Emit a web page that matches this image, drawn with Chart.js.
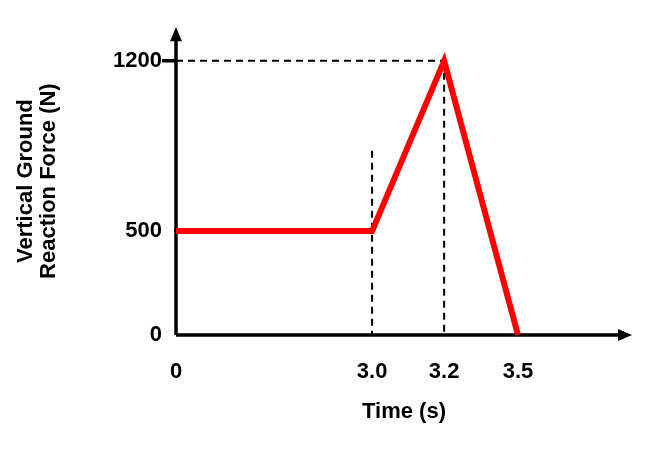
<!DOCTYPE html>
<html><head><meta charset="utf-8">
<script src="https://cdn.jsdelivr.net/npm/chart.js@4"></script>
<style>html,body{margin:0;padding:0;background:#fff}#w{width:645px;height:449px}</style>
</head><body><div id="w"><canvas id="c"></canvas></div>
<script>
const times = [0, 3.0, 3.2, 3.5];
const forces = [500, 500, 1200, 0];
const xTicks = [0, 3.0, 3.2, 3.5];
const xTickLabels = ['0', '3.0', '3.2', '3.5'];
const yTicks = [0, 500, 1200];
const xBreaks = [0, 3.0, 3.2, 3.5, 4.0];
const xFrac = [0, 0.43, 0.588, 0.75, 1.0];
const yBreaks = [0, 500, 1200, 1350];
const yFrac = [0, 0.3375, 0.8906, 1.0];

function mapF(v, b, f) {
  for (let i = 0; i < b.length - 1; i++) {
    if (v <= b[i+1] || i === b.length - 2) {
      return f[i] + (v - b[i]) / (b[i+1] - b[i]) * (f[i+1] - f[i]);
    }
  }
  return 0;
}
class PiecewiseScale extends Chart.LinearScale {
  brk() { return this.axis === 'x' ? [xBreaks, xFrac] : [yBreaks, yFrac]; }
  getPixelForValue(v) {
    const [b, f] = this.brk();
    const t = mapF(v, b, f);
    return this.isHorizontal() ? this.left + t * this.width : this.bottom - t * this.height;
  }
  getValueForPixel(p) {
    const [b, f] = this.brk();
    const t = this.isHorizontal() ? (p - this.left) / this.width : (this.bottom - p) / this.height;
    return mapF(t, f, b);
  }
}
PiecewiseScale.id = 'piecewise';
PiecewiseScale.defaults = Chart.LinearScale.defaults;
Chart.register(PiecewiseScale);

const font = {family: 'Liberation Sans, Arial', weight: 'bold', size: 22};

const deco = {
  id: 'deco',
  beforeDatasetsDraw(chart) {
    const {ctx, scales: {x, y}} = chart;
    const x0 = x.getPixelForValue(0), y0 = y.getPixelForValue(0);
    ctx.save();
    ctx.strokeStyle = '#000';
    ctx.lineWidth = 2;
    ctx.setLineDash([7, 5]);
    const px = x.getPixelForValue(times[2]), py = y.getPixelForValue(forces[2]);
    ctx.beginPath();
    ctx.moveTo(x0, py); ctx.lineTo(px, py);
    ctx.moveTo(px, py); ctx.lineTo(px, y0);
    const qx = x.getPixelForValue(times[1]);
    ctx.moveTo(qx, y.getPixelForValue(830)); ctx.lineTo(qx, y0);
    ctx.stroke();
    ctx.setLineDash([]);
    ctx.lineWidth = 3.5;
    ctx.beginPath();
    ctx.moveTo(x0, y0); ctx.lineTo(x.right - 8, y0);
    ctx.moveTo(x0, y0); ctx.lineTo(x0, y.top + 8);
    const y5 = y.getPixelForValue(500);
    ctx.moveTo(x0 - 2, y5); ctx.lineTo(x0 + 16, y5);
    ctx.moveTo(x0 - 14, py); ctx.lineTo(x0, py);
    ctx.stroke();
    ctx.fillStyle = '#000';
    ctx.beginPath();
    ctx.moveTo(x.right, y0); ctx.lineTo(x.right - 14, y0 - 6); ctx.lineTo(x.right - 14, y0 + 6); ctx.closePath();
    ctx.moveTo(x0, y.top); ctx.lineTo(x0 - 6, y.top + 14); ctx.lineTo(x0 + 6, y.top + 14); ctx.closePath();
    ctx.fill();
    ctx.restore();
  }
};

new Chart(document.getElementById('c'), {
  type: 'line',
  data: {datasets: [{
    data: times.map((t, i) => ({x: t, y: forces[i]})),
    borderColor: '#ff0000', borderWidth: 6, pointRadius: 0, tension: 0,
    borderJoinStyle: 'miter'
  }]},
  options: {
    responsive: true, maintainAspectRatio: false, animation: false,
    layout: {padding: {top: 0, right: 13, left: 10, bottom: 0}},
    plugins: {legend: {display: false}, tooltip: {enabled: false}},
    scales: {
      x: {
        type: 'piecewise', min: 0, max: 4.0,
        grid: {display: false, drawTicks: false}, border: {display: false},
        afterBuildTicks: s => { s.ticks = xTicks.map(v => ({value: v})); },
        afterFit: s => { s.height = 449 - 335; },
        ticks: {color: '#000', font, padding: 24, autoSkip: false, maxRotation: 0,
          callback: (v, i) => xTickLabels[i]},
        title: {display: true, text: 'Time (s)', color: '#000',
          font: {family: 'Liberation Sans, Arial', weight: 'bold', size: 22}, padding: {top: 4, bottom: 24}}
      },
      y: {
        type: 'piecewise', min: 0, max: 1350,
        grid: {display: false, drawTicks: false}, border: {display: false},
        afterBuildTicks: s => { s.ticks = yTicks.map(v => ({value: v})); },
        afterFit: s => { s.width = 166; },
        ticks: {color: '#000', font, padding: 14, autoSkip: false, callback: v => String(v)},
        title: {display: true, text: ['Vertical Ground', 'Reaction Force (N)'], color: '#000',
          font: {family: 'Liberation Sans, Arial', weight: 'bold', size: 22, lineHeight: 1.05}, padding: {bottom: 30}}
      }
    }
  },
  plugins: [deco]
});
</script></body></html>
